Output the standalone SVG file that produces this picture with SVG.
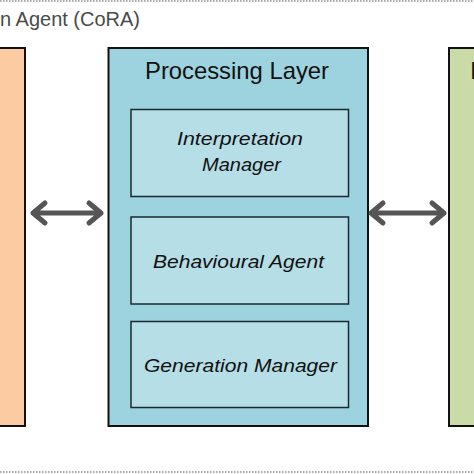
<svg xmlns="http://www.w3.org/2000/svg" width="474" height="474" viewBox="0 0 474 474">
<style>
.box{stroke:#111;stroke-width:2}
.inner{fill:#b6dee7;stroke:#1a2a30;stroke-width:1.5}
.t{font-family:"Liberation Sans Narrow","Liberation Sans",Arial,sans-serif;fill:#111}
.it{font-style:italic;font-size:19px;text-anchor:start}
.hd{font-size:24px}
.arr{stroke:#555;stroke-width:5;fill:none;stroke-linecap:round;stroke-linejoin:round}
.dot{stroke:#aaa;stroke-width:2;stroke-dasharray:1.5 1.5}
</style>
<rect width="474" height="474" fill="#fff"/>
<line class="dot" x1="0" y1="1" x2="474" y2="1"/>
<line class="dot" x1="0" y1="472" x2="474" y2="472"/>
<text class="t" x="0" y="26" font-size="20" fill="#4a4a4a" style="fill:#4a4a4a" textLength="140" lengthAdjust="spacingAndGlyphs">n Agent (CoRA)</text>
<g id="left-layer">
<rect class="box" x="-5" y="48" width="30" height="378" fill="#fdcba1"/>
</g>
<g id="processing-layer">
<rect class="box" x="108.5" y="48" width="259.5" height="378" fill="#9dd2df"/>
<text class="t hd" x="145" y="79" textLength="184" lengthAdjust="spacingAndGlyphs">Processing Layer</text>
</g>
<g id="interpretation-manager">
<rect class="inner" x="131" y="109.5" width="217.5" height="87"/>
<text class="t it" x="177" y="145" textLength="126" lengthAdjust="spacingAndGlyphs">Interpretation</text>
<text class="t it" x="202" y="171" textLength="79" lengthAdjust="spacingAndGlyphs">Manager</text>
</g>
<g id="behavioural-agent">
<rect class="inner" x="131" y="217" width="217.5" height="87"/>
<text class="t it" x="153" y="268" textLength="171" lengthAdjust="spacingAndGlyphs">Behavioural Agent</text>
</g>
<g id="generation-manager">
<rect class="inner" x="131" y="321.5" width="217.5" height="86"/>
<text class="t it" x="144" y="372" textLength="193" lengthAdjust="spacingAndGlyphs">Generation Manager</text>
</g>
<g id="right-layer">
<rect class="box" x="449" y="48" width="40" height="378" fill="#cbdba8"/>
<text class="t hd" x="470" y="79">I</text>
</g>
<g id="connectors">
<path class="arr" d="M33 213H101M45 203L33 213L45 223M89 203L101 213L89 223"/>
<path class="arr" d="M371 213H444M383 203L371 213L383 223M432 203L444 213L432 223"/>
</g>
</svg>
